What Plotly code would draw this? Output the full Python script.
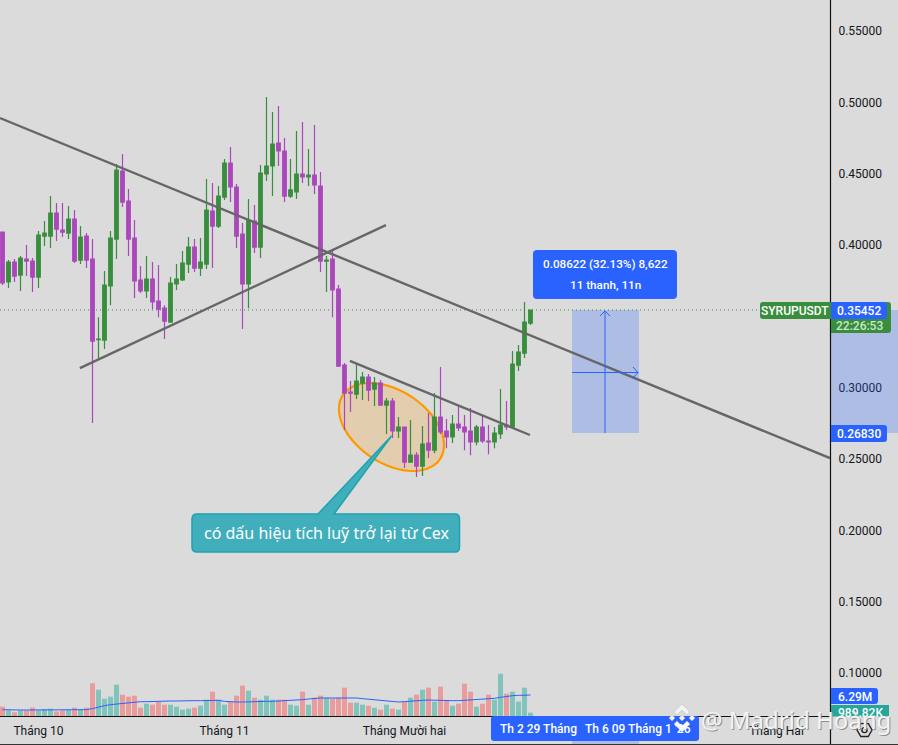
import numpy as np
import plotly.graph_objects as go

W, H = 898, 745
BG = "#DBDBDB"
UP, DOWN = "#388E3C", "#AB47BC"
V_UP, V_DOWN = "#80C4BC", "#E99C9C"
BLUE = "#2962FF"
BAND = "rgba(41,98,255,0.25)"
FONT = "Roboto"

open_ = [.4091,.3741,.3881,.3790,.3902,.3888,.3776,.4063,.4063,.4224,.4105,.4084,.4182,.3895,.4063,.3902,.3338,.3334,.3713,.4042,
         .4519,.4308,.4049,.3755,.3678,.3762,.3608,.3558,.3460,.3727,.3755,.3867,.3986,.3839,.3867,.4238,.4133,.4336,.4575,.4407,
         .4077,.3727,.4168,.3986,.4498,.4554,.4715,.4659,.4343,.4372,.4498,.4477,.4491,.4414,.3888,.3902,.3692,.3159,.2970,.2956,
         .3033,.3075,.2991,.3033,.2879,.2907,.2697,.2725,.2479,.2528,.2451,.2613,.2563,.2795,.2697,.2655,.2746,.2725,.2697,.2620,
         .2725,.2627,.2620,.2676,.2739,.2725,.3159,.3243,.3453]
close = [.3734,.3881,.3783,.3909,.3888,.3776,.4070,.4084,.4224,.4112,.4091,.4182,.3888,.4056,.3895,.3327,.3341,.3720,.4049,.4526,
         .4301,.4042,.3748,.3678,.3762,.3601,.3551,.3467,.3734,.3762,.3874,.3986,.3839,.3881,.4245,.4133,.4343,.4575,.4407,.4063,
         .3727,.4175,.3986,.4505,.4554,.4708,.4659,.4343,.4386,.4498,.4477,.4491,.4421,.3888,.3895,.3685,.3152,.2963,.2963,.3047,
         .3075,.2984,.3033,.2879,.2907,.2697,.2725,.2479,.2528,.2451,.2605,.2563,.2795,.2690,.2655,.2746,.2718,.2690,.2620,.2725,
         .2627,.2620,.2683,.2739,.2725,.3166,.3250,.3460,.3545]
high = [.4091,.3895,.3902,.3923,.4000,.3909,.4098,.4168,.4343,.4294,.4294,.4273,.4245,.4133,.4084,.4042,.3495,.3818,.4098,.4568,
        .4638,.4393,.4175,.3853,.3923,.3881,.3860,.3579,.3776,.3867,.3958,.4056,.4042,.4049,.4463,.4435,.4414,.4603,.4687,.4428,
        .4154,.4322,.4280,.4561,.5037,.4932,.4974,.4750,.4603,.4799,.4862,.4673,.4841,.4512,.3923,.3965,.3720,.3173,.3047,.3173,
        .3110,.3096,.3075,.3054,.2928,.2928,.2795,.2725,.2774,.2549,.2732,.2823,.2963,.3145,.2781,.2809,.2872,.2809,.2858,.2739,
        .2802,.2739,.2725,.2991,.2907,.3257,.3299,.3601,.3545]
low = [.3720,.3699,.3741,.3678,.3783,.3671,.3699,.3993,.3979,.4028,.4056,.4042,.3874,.3867,.3839,.2753,.3194,.3271,.3579,.3902,
       .4266,.3923,.3629,.3664,.3629,.3551,.3495,.3341,.3460,.3685,.3748,.3804,.3811,.3783,.3832,.3839,.4119,.4315,.4301,.3979,
       .3411,.3558,.3944,.3909,.4449,.4343,.4554,.4301,.4329,.4322,.4435,.4414,.4357,.3811,.3671,.3495,.3145,.2704,.2830,.2921,
       .2914,.2907,.2872,.2872,.2676,.2648,.2648,.2437,.2472,.2374,.2381,.2507,.2542,.2676,.2577,.2613,.2697,.2563,.2528,.2598,
       .2613,.2535,.2577,.2641,.2704,.2718,.3117,.3208,.3439]
volume = [2.8,1.7,1.1,1.7,1.7,2.5,1.7,2.1,2.2,1.4,1.7,1.9,2.5,1.9,2.5,9.8,7.9,5.2,5.8,9.4,
          6.4,5.8,6.1,2.5,3.7,3.4,4.3,3.4,3.4,2.8,1.9,2.2,2.5,3.1,4.9,7.3,4.9,3.4,4.3,6.1,
          9.1,7.6,5.5,4.9,6.1,4.9,4.9,4.9,3.4,3.1,7.3,3.4,5.5,6.1,5.5,5.2,5.5,8.5,4.0,4.0,
          3.4,3.1,2.5,1.9,3.4,2.2,1.9,4.3,5.5,6.4,7.9,8.5,4.3,8.8,4.6,3.1,3.7,9.7,7.3,2.8,
          3.7,6.4,4.9,12.7,6.7,7.3,4.3,8.5,0.99]
vol_ma = [1.9,1.8,1.8,1.8,1.8,1.8,1.8,1.8,1.8,1.8,1.8,1.8,1.8,1.8,1.9,2.2,2.7,3.1,3.4,3.6,
          3.8,4.0,4.2,4.3,4.3,4.4,4.5,4.5,4.5,4.5,4.6,4.6,4.6,4.6,4.7,4.7,4.7,4.4,4.2,4.2,
          4.2,4.3,4.3,4.3,4.4,4.4,4.5,4.5,4.5,4.7,4.9,5.1,5.3,5.4,5.4,5.4,5.5,5.6,5.6,5.4,
          5.2,5.0,4.9,4.7,4.5,4.3,4.2,4.3,4.5,4.6,4.7,4.8,4.7,4.7,4.7,4.6,4.6,4.7,4.7,4.8,
          4.9,5.0,5.3,5.6,5.9,6.1,6.2,6.3,6.29]
bars = list(range(len(close)))

price_ticks = [.10,.15,.20,.25,.30,.40,.45,.50,.55]
month_ticks = [6, 37, 67, 129]
month_labels = ["Tháng 10", "Tháng 11", "Tháng Mười hai", "Tháng Hai"]

last_price, measure_low = 0.35452, 0.26830
trend_lines = [(-0.42, .4890, 137.9, .2507), (12.9, .3138, 63.9, .4140), (57.9, .3189, 87.9, .2669)]
measure_bars = (94.92, 106.08)
ellipse_c, ellipse_a, ellipse_b = (64.83, .2725), (8.1, -.02236), (-3.32, -.02123)


def fx(x): return x / W
def fy(y): return 1 - y / H
def pt(x, y): return f"{fx(x):.5f},{fy(y):.5f}"


def poly(points, close_it=True):
    return "M" + " L".join(pt(*p) for p in points) + (" Z" if close_it else "")


def rrect(x0, y0, x1, y1, r=4, rl=True, rr=True):
    a, b = (r if rl else 0), (r if rr else 0)
    s = f"M{pt(x0 + a, y0)} L{pt(x1 - b, y0)} "
    if b: s += f"Q{pt(x1, y0)} {pt(x1, y0 + b)} "
    s += f"L{pt(x1, y1 - b)} "
    if b: s += f"Q{pt(x1, y1)} {pt(x1 - b, y1)} "
    s += f"L{pt(x0 + a, y1)} "
    if a: s += f"Q{pt(x0, y1)} {pt(x0, y1 - a)} "
    s += f"L{pt(x0, y0 + a)} "
    if a: s += f"Q{pt(x0, y0)} {pt(x0 + a, y0)} "
    return s + "Z"


shapes = []


def pshape(path, fill=None, line=None, width=0, layer="above"):
    shapes.append(dict(type="path", path=path, xref="paper", yref="paper", layer=layer,
                       fillcolor=fill or "rgba(0,0,0,0)",
                       line=dict(color=line or "rgba(0,0,0,0)", width=width)))


def rect(x0, y0, x1, y1, fill, layer="above"):
    shapes.append(dict(type="rect", xref="paper", yref="paper", layer=layer, x0=fx(x0), x1=fx(x1),
                       y0=fy(y1), y1=fy(y0), fillcolor=fill, line=dict(width=0)))


# orange ellipse under the candles
t = np.linspace(0, 2 * np.pi, 73)[:-1]
ex = ellipse_c[0] + ellipse_a[0] * np.cos(t) + ellipse_b[0] * np.sin(t)
ey = ellipse_c[1] + ellipse_a[1] * np.cos(t) + ellipse_b[1] * np.sin(t)
shapes.append(dict(type="path", xref="x", yref="y", layer="below",
                   path="M" + " L".join(f"{a:.3f},{b:.5f}" for a, b in zip(ex, ey)) + " Z",
                   fillcolor="rgba(255,152,0,0.2)", line=dict(color="#FF9800", width=2.2)))
# measure tool
shapes.append(dict(type="rect", xref="x", yref="y", layer="below", x0=measure_bars[0], x1=measure_bars[1],
                   y0=measure_low, y1=last_price, fillcolor=BAND, line=dict(width=0)))
# last price dotted line
shapes.append(dict(type="line", xref="paper", yref="y", x0=0, x1=fx(830), y0=last_price, y1=last_price,
                   line=dict(color=UP, width=1, dash="1px,3px")))
for x0, y0, x1, y1 in trend_lines:
    shapes.append(dict(type="line", xref="x", yref="y", x0=x0, y0=y0, x1=x1, y1=y1,
                       line=dict(color="#666666", width=2.4)))
# measure arrows
shapes.append(dict(type="line", xref="paper", yref="paper", x0=fx(605), x1=fx(605), y0=fy(433), y1=fy(311),
                   line=dict(color=BLUE, width=1)))
pshape(poly([(600, 316), (605, 311), (610, 316)], False), line=BLUE, width=1)
shapes.append(dict(type="line", xref="paper", yref="paper", x0=fx(572), x1=fx(638), y0=fy(372.5), y1=fy(372.5),
                   line=dict(color=BLUE, width=1)))
pshape(poly([(633, 367), (638, 372.5), (633, 378)], False), line=BLUE, width=1)
# bands on the axes
rect(831, 310, W, 433, BAND)
rect(572, 717, 639, 745, BAND)
# right axis and bottom frame
shapes.append(dict(type="line", xref="paper", yref="paper", x0=fx(830.5), x1=fx(830.5), y0=fy(0), y1=fy(744),
                   line=dict(color="#111111", width=1.2)))
shapes.append(dict(type="line", xref="paper", yref="paper", x0=0, x1=1, y0=fy(744.5), y1=fy(744.5),
                   line=dict(color="#333333", width=1)))
# measure label
pshape(rrect(533, 250, 677, 299, 4), fill=BLUE)
# callout
callout = (f"M{pt(197, 514)} L{pt(318, 514)} L{pt(391.5, 436)} L{pt(334, 514)} L{pt(455, 514)} "
           f"Q{pt(459.5, 514)} {pt(459.5, 519)} L{pt(459.5, 547)} Q{pt(459.5, 552)} {pt(455, 552)} "
           f"L{pt(197, 552)} Q{pt(192, 552)} {pt(192, 547)} L{pt(192, 519)} Q{pt(192, 514)} {pt(197, 514)} Z")
pshape(callout, fill="#41AEBC", line="#1CA3B2", width=1.5)
# price tags
pshape(rrect(760, 302, 831, 319, 3, rr=False), fill=UP)
pshape(rrect(831, 302, 891, 333, 3, rl=False), fill=UP)
pshape(rrect(831, 302, 887, 319, 3, rl=False), fill=BLUE)
pshape(rrect(831, 425, 887, 442, 3, rl=False), fill=BLUE)
pshape(rrect(831, 688, 878, 704, 3, rl=False), fill=BLUE)
rect(831, 705, 889, 716.5, "#26A69A")
# date label
pshape(rrect(491, 716, 699, 741, 3), fill=BLUE)
# hexagon settings icon
hx, hy, hr = 864.5, 730, 7.5
pshape(poly([(hx + hr * np.cos(a), hy + hr * np.sin(a)) for a in np.radians([0, 60, 120, 180, 240, 300])]),
       line="#222222", width=1.4)
shapes.append(dict(type="circle", xref="paper", yref="paper", x0=fx(hx - 2.6), x1=fx(hx + 2.6), y0=fy(hy + 2.6),
                   y1=fy(hy - 2.6), line=dict(color="#222222", width=1.4)))
# logo
lx, ly = 682, 718


def diamond(cx, cy, r):
    pshape(poly([(cx, cy - r), (cx + r, cy), (cx, cy + r), (cx - r, cy)]), fill="#F4F4F4", line="#BBBBBB", width=0.5)


diamond(lx - 10, ly, 3)
diamond(lx + 10, ly, 3)
diamond(lx, ly, 3)
pshape(poly([(lx, ly - 14), (lx + 8, ly - 6), (lx + 5, ly - 3), (lx, ly - 8), (lx - 5, ly - 3), (lx - 8, ly - 6)]),
       fill="#F4F4F4", line="#BBBBBB", width=0.5)
pshape(poly([(lx, ly + 14), (lx + 8, ly + 6), (lx + 5, ly + 3), (lx, ly + 8), (lx - 5, ly + 3), (lx - 8, ly + 6)]),
       fill="#F4F4F4", line="#BBBBBB", width=0.5)


def note(text, x, y, size=12, color="#FFFFFF", anchor="center", font=FONT, weight=500, **kw):
    return dict(text=text, xref="paper", yref="paper", x=fx(x), y=fy(y), xanchor=anchor, yanchor="middle",
                showarrow=False, font=dict(size=size, color=color, family=font, weight=weight), **kw)


annotations = [
    note("0.08622 (32.13%) 8,622", 605, 264.5, size=11.7),
    note("11 thanh, 11n", 605, 284.5, size=11.7),
    note("có dấu hiệu tích luỹ trở lại từ Cex", 326, 533, size=16, font="Noto Sans", weight=400),
    note("SYRUPUSDT", 795, 311, size=12),
    note("0.35452", 859, 311, size=12),
    note("22:26:53", 859, 325.5, size=12, color="#C8E6C9"),
    note("0.26830", 859, 433.5, size=12),
    note("6.29M", 854.5, 696.5, size=12),
    note("989.82K", 860, 713, size=12),
    dict(text=" ", xref="paper", yref="paper", x=fx(831), y=fy(717), xanchor="left", yanchor="top", width=62,
         height=4, bgcolor=BG, showarrow=False, borderpad=0, font=dict(size=2)),
    note("Th 2 29 Tháng", 538, 729),
    note("Th 6 09 Tháng 1 '26", 638, 729),
    note("@ Madrid Hoàng", 796.5, 720, size=24, color="#8F8F8F", font="Noto Sans", weight=400),
    note("@ Madrid Hoàng", 795.5, 719, size=24, color="#F4F4F4", font="Noto Sans", weight=400),
]

fig = go.Figure()
fig.add_trace(go.Bar(x=bars, y=volume, yaxis="y2", width=0.83, showlegend=False,
                     marker=dict(color=[V_UP if c >= o else V_DOWN for o, c in zip(open_, close)], line=dict(width=0))))
fig.add_trace(go.Scatter(x=bars, y=vol_ma, yaxis="y2", mode="lines", showlegend=False,
                         line=dict(color=BLUE, width=1)))
fig.add_trace(go.Candlestick(x=bars, open=open_, high=high, low=low, close=close, showlegend=False,
                             increasing=dict(line=dict(color=UP, width=1.2), fillcolor=UP),
                             decreasing=dict(line=dict(color=DOWN, width=1.2), fillcolor=DOWN)))

fig.update_layout(
    width=W, height=H, autosize=False, margin=dict(l=0, r=0, t=0, b=0, pad=0),
    paper_bgcolor=BG, plot_bgcolor=BG, boxgap=0.15, showlegend=False,
    font=dict(family=FONT, size=12, color="#131722"),
    xaxis=dict(domain=[0, 830 / W], range=[-0.4167, 137.917], rangeslider=dict(visible=False), showgrid=False,
               zeroline=False, tickmode="array", tickvals=month_ticks, ticktext=month_labels, ticks="outside",
               ticklen=4, tickcolor=BG, showline=True, linecolor="#111111", linewidth=1,
               tickfont=dict(size=12, color="#131722")),
    yaxis=dict(domain=[29 / H, 1], range=[0.07, 0.57172], side="right", anchor="x", showgrid=False, zeroline=False,
               tickmode="array", tickvals=price_ticks, tickformat=".5f", ticks="outside", ticklen=5, tickcolor=BG,
               tickfont=dict(size=12, color="#131722")),
    yaxis2=dict(domain=[29 / H, 1], range=[0, 214.8], overlaying="y", visible=False, anchor="x"),
    shapes=shapes, annotations=annotations,
)
fig.write_html("out.html", config=dict(displayModeBar=False),
               post_script="document.body.style.margin='0';document.body.style.overflow='hidden';")
